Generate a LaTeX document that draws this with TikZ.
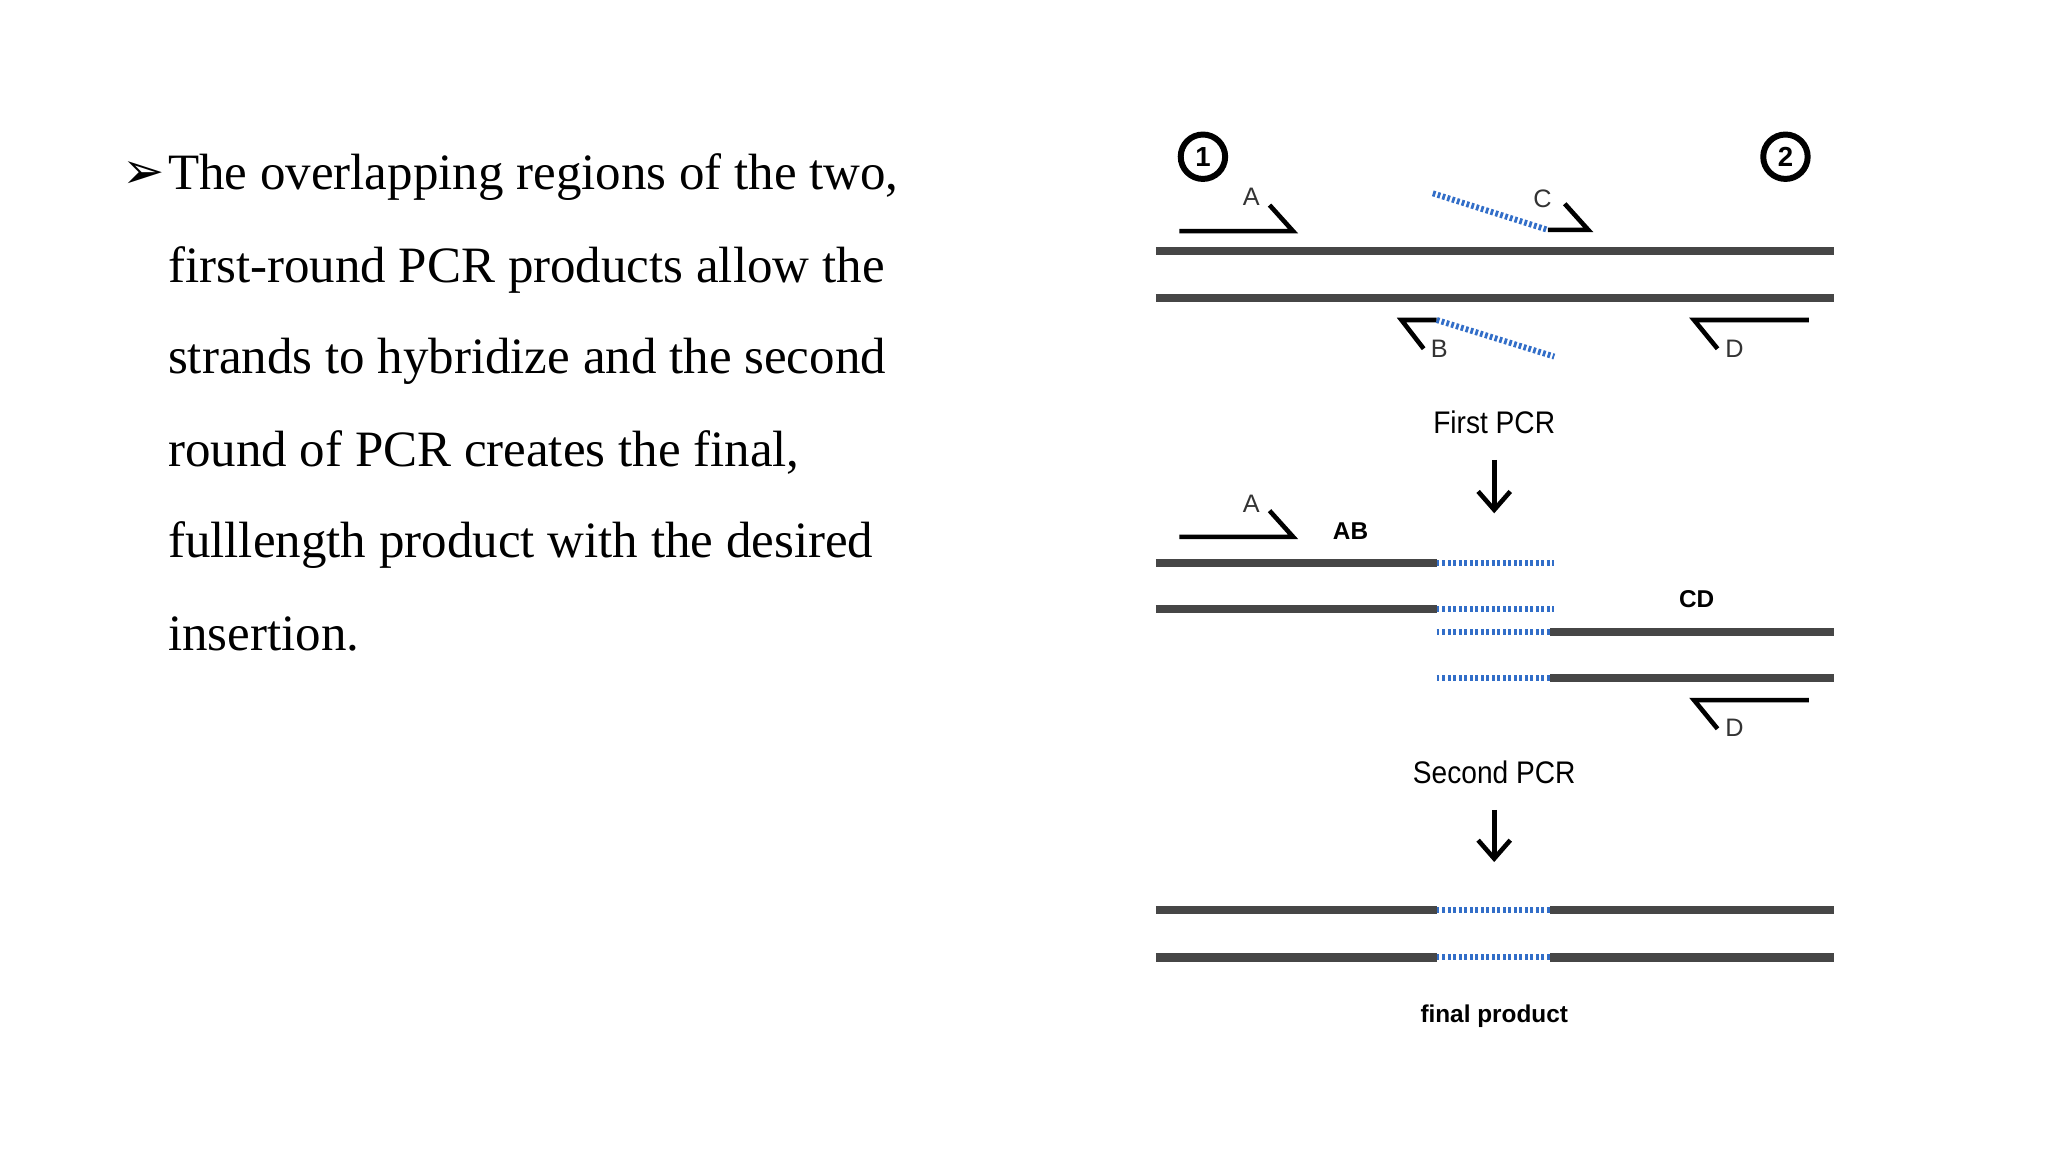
\documentclass[tikz,border=0pt]{standalone}
\usepackage{fontspec}
\setmainfont{Liberation Serif}
\newfontfamily\diag{Liberation Sans}
\newfontfamily\sym{DejaVu Sans}
\usetikzlibrary{arrows.meta}
\definecolor{strand}{RGB}{70,70,70}
\definecolor{ins}{RGB}{50,110,200}
\tikzset{
  dna/.style={strand,line width=1.8pt},
  insd/.style={ins,line width=1.3pt,dash pattern=on 0.6pt off 0.6pt},
  prim/.style={black,line width=1pt},
  primd/.style={ins,line width=1.3pt,dash pattern=on 0.6pt off 0.5pt},
  lab/.style={font=\diag\fontsize{5.5}{7}\selectfont,text=black!80},
  bold/.style={font=\diag\bfseries\fontsize{5.3}{7}\selectfont},
  pcr/.style={font=\diag\fontsize{6.8}{8}\selectfont,xscale=0.9},
  body/.style={font=\fontsize{11.1}{14}\selectfont,anchor=base west,inner sep=0},
}
\begin{document}
\begin{tikzpicture}[x=0.01cm,y=-0.01cm]
\useasboundingbox (0,0) rectangle (1568,882);
% text
\node[body] (bul) at (93,144) {\sym\fontsize{11}{13}\selectfont ➢};
\node[body] (t1) at (128,145) {The overlapping regions of the two,};
\node[body] (t2) at (128,216) {first-round PCR products allow the};
\node[body] (t3) at (128,286) {strands to hybridize and the second};
\node[body] (t4) at (128,357) {round of PCR creates the final,};
\node[body] (t5) at (128,427) {fulllength product with the desired};
\node[body] (t6) at (128,498) {insertion.};
% circles
\node[draw,circle,line width=1.3pt,minimum size=0.34cm,inner sep=0,font=\diag\bfseries\fontsize{6}{7}\selectfont] (c1) at (921,120) {1};
\node[draw,circle,line width=1.3pt,minimum size=0.34cm,inner sep=0,font=\diag\bfseries\fontsize{6}{7}\selectfont] (c2) at (1367,120) {2};
% top template
\draw[dna] (885,192) -- (1404,192);
\draw[dna] (885,228) -- (1404,228);
% primer A
\draw[prim] (903,177) -- (990,177) -- (972,157);
\node[lab] (la) at (958,151) {A};
% primer C
\draw[primd] (1097,148) -- (1185,176);
\draw[prim] (1185,176) -- (1216,176) -- (1198,156);
\node[lab] (lc) at (1181,152) {C};
% primer B
\draw[prim] (1100,245) -- (1073,245) -- (1090,267);
\draw[primd] (1100,245) -- (1190,273);
\node[lab] (lb) at (1102,267) {B};
% primer D
\draw[prim] (1385,245) -- (1297,245) -- (1315,267);
\node[lab] (ld) at (1328,267) {D};
% first PCR
\node[pcr] (p1) at (1144,323) {First PCR};
\coordinate (a1s) at (1144,352); \coordinate (a1e) at (1144,393);
\draw[line width=1pt,-{Straight Barb[length=4pt,width=7pt]}] (a1s) -- (a1e);
% middle
\draw[prim] (903,411) -- (990,411) -- (972,391);
\node[lab] (la2) at (958,386) {A};
\node[bold] (ab) at (1034,407) {AB};
\draw[dna] (885,431) -- (1100,431); \draw[insd] (1100,431) -- (1190,431);
\draw[dna] (885,466) -- (1100,466); \draw[insd] (1100,466) -- (1190,466);
\node[bold] (cd) at (1299,459) {CD};
\draw[insd] (1100,484) -- (1187,484); \draw[dna] (1187,484) -- (1404,484);
\draw[insd] (1100,519) -- (1187,519); \draw[dna] (1187,519) -- (1404,519);
\draw[prim] (1385,536) -- (1297,536) -- (1315,558);
\node[lab] (ld2) at (1328,557) {D};
% second PCR
\node[pcr] (p2) at (1144,591) {Second PCR};
\coordinate (a2s) at (1144,620); \coordinate (a2e) at (1144,660);
\draw[line width=1pt,-{Straight Barb[length=4pt,width=7pt]}] (a2s) -- (a2e);
% final
\foreach \yy in {697,733}{
  \draw[dna] (885,\yy) -- (1100,\yy); \draw[insd] (1100,\yy) -- (1187,\yy); \draw[dna] (1187,\yy) -- (1404,\yy);
}
\node[bold] (fp) at (1144,778) {final product};
\end{tikzpicture}
\end{document}
